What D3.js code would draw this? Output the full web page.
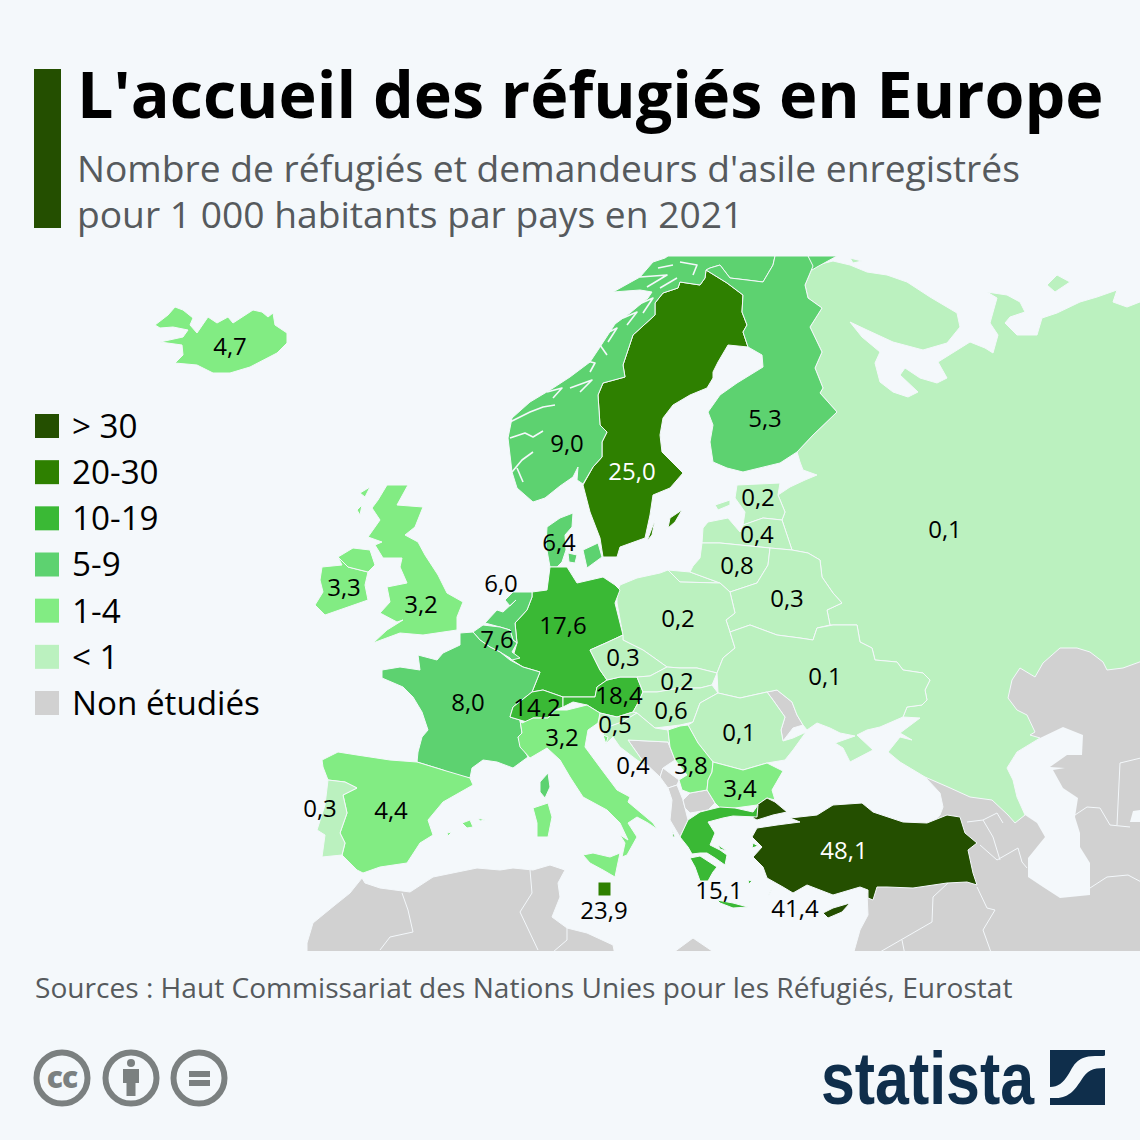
<!DOCTYPE html>
<html>

<head>
    <meta charset="utf-8">
    <style>
        body {
            margin: 0;
            background: #f4f8fb;
        }

        svg {
            display: block;
            font-family: 'Open Sans', sans-serif;
        }

        .land {
            stroke: #f4f8fb;
            stroke-width: 1;
            stroke-linejoin: round;
        }

        .inner-border {
            fill: none;
            stroke: #f4f8fb;
            stroke-width: 1;
        }

        .fjord {
            fill: none;
            stroke: #f4f8fb;
            stroke-width: 1.6;
            stroke-linejoin: round;
        }
    </style>
</head>

<body>
    <svg width="1140" height="1140"></svg>

    <script src="https://d3js.org/d3.v7.min.js"></script>
    <script>
        // values, refugees per 1 000 inhabitants
        const countryNames = ["Islande", "Suède", "Norvège", "Finlande", "Estonie", "Lettonie", "Lituanie", "Danemark", "Pays-Bas", "Irlande",
            "Royaume-Uni", "Belgique", "Allemagne", "Biélorussie", "Pologne", "Tchéquie", "Slovaquie", "Autriche", "Suisse", "France",
            "Hongrie", "Slovénie", "Ukraine", "Roumanie", "Italie", "Croatie", "Serbie", "Bulgarie", "Portugal", "Espagne",
            "Turquie", "Grèce", "Chypre", "Malte", "Russie"]
        const refugeesPer1000 = [4.7, 25.0, 9.0, 5.3, 0.2, 0.4, 0.8, 6.4, 6.0, 3.3,
            3.2, 7.6, 17.6, 0.3, 0.2, 0.3, 0.2, 18.4, 14.2, 8.0,
            0.6, 0.5, 0.1, 0.1, 3.2, 0.4, 3.8, 3.4, 0.3, 4.4,
            48.1, 15.1, 41.4, 23.9, 0.1]

        const legendLabels = ["> 30", "20-30", "10-19", "5-9", "1-4", "< 1", "Non étudiés"]
        const legendColors = ["#244f00", "#2e8000", "#3ab935", "#5dd270", "#82ec83", "#bbf1bf", "#d1d1d1"]
        const tierBreaks = [1, 5, 10, 20, 30]
        const tierColors = ["#bbf1bf", "#82ec83", "#5dd270", "#3ab935", "#2e8000", "#244f00"]

        const titleText = "L'accueil des réfugiés en Europe"
        const subtitleLines = ["Nombre de réfugiés et demandeurs d'asile enregistrés", "pour 1 000 habitants par pays en 2021"]
        const sourceText = "Sources : Haut Commissariat des Nations Unies pour les Réfugiés, Eurostat"
        const whiteLabels = ["Suède", "Turquie"]

        const greyLands = {
            "Est": [[[1000, 640], [1145, 640], [1145, 955], [853, 955], [860, 930], [868, 915], [867, 893], [880, 880], [940, 815], [943, 807], [940, 793], [925, 777], [1000, 770]]],
            "Afrique du Nord": [[[307, 955], [307, 943], [313, 923], [335, 905], [350, 893], [362, 878], [365, 883], [380, 888], [410, 892], [433, 877], [477, 868], [500, 870], [513, 868], [533, 870], [550, 865], [565, 870], [558, 883], [560, 897], [552, 917], [567, 928], [587, 933], [613, 945], [615, 955]],
                [[670, 955], [693, 938], [718, 955]]],
            "Bosnie": [[[628, 740], [668, 742], [675, 760], [663, 768], [660, 777], [642, 760]]],
            "Monténégro": [[[660, 777], [663, 768], [679, 780], [677, 785], [668, 788]]],
            "Albanie": [[[668, 788], [677, 785], [683, 800], [685, 808], [688, 820], [680, 837], [670, 820], [672, 800]]],
            "Macédoine du Nord": [[[683, 800], [690, 793], [707, 790], [715, 803], [708, 810], [690, 813], [685, 808]]],
            "Moldavie": [[[767, 692], [777, 690], [792, 702], [797, 715], [803, 725], [793, 728], [783, 741], [781, 730], [785, 717], [773, 700]]]
        }

        const waters = [
            [[1040, 738], [1063, 727], [1083, 735], [1082, 755], [1067, 755], [1050, 767], [1065, 768], [1053, 770], [1063, 788], [1078, 798], [1075, 817], [1080, 833], [1080, 847], [1090, 863], [1090, 895], [1060, 898], [1043, 887], [1028, 877], [1028, 858], [1045, 837], [1037, 823], [1025, 815], [1015, 793], [1007, 768], [1017, 752]],
            [[1130, 822], [1133, 811], [1140, 810], [1140, 822]]
        ]

        const greyBorders = [
            [[1075, 815], [1087, 807], [1100, 808], [1110, 825], [1130, 827]],
            [[1117, 825], [1120, 763], [1145, 757]],
            [[1090, 888], [1107, 877], [1128, 875], [1145, 884]],
            [[967, 822], [983, 820], [997, 813], [1003, 823]],
            [[983, 820], [993, 837], [1000, 860]],
            [[980, 845], [997, 860], [1018, 848], [1022, 862], [1027, 868]],
            [[977, 887], [987, 908], [995, 910], [983, 930], [992, 955]],
            [[948, 883], [933, 897], [932, 922], [880, 952]],
            [[902, 940], [905, 955]],
            [[530, 870], [532, 893], [520, 912], [538, 950]],
            [[567, 928], [567, 940], [553, 952]],
            [[402, 893], [408, 910], [413, 932], [390, 937], [380, 950]]
        ]

        const outlines = {
            "Russie": [[[813, 266], [833, 261], [850, 265], [867, 272], [887, 275], [907, 282], [930, 297], [957, 313], [960, 327], [947, 343], [923, 350], [893, 342], [867, 330], [850, 322], [862, 337], [880, 352], [875, 363], [880, 382], [893, 392], [908, 397], [918, 392], [900, 375], [905, 368], [920, 378], [937, 383], [947, 378], [938, 362], [970, 342], [985, 348], [993, 353], [998, 335], [990, 323], [997, 298], [987, 292], [1007, 295], [1020, 302], [1025, 312], [1010, 317], [1005, 323], [1017, 335], [1037, 335], [1042, 318], [1057, 313], [1080, 302], [1097, 297], [1117, 290], [1113, 302], [1127, 307], [1145, 300], [1145, 660], [1123, 668], [1107, 670], [1103, 662], [1090, 652], [1077, 648], [1060, 648], [1043, 663], [1035, 677], [1020, 668], [1012, 680], [1008, 698], [1017, 710], [1027, 715], [1035, 732], [1030, 735], [1040, 738], [1017, 752], [1007, 768], [1013, 780], [1017, 797], [1025, 815], [1015, 823], [1008, 815], [992, 800], [970, 797], [948, 787], [925, 777], [900, 762], [888, 752], [900, 737], [912, 740], [900, 733], [920, 718], [903, 717], [907, 707], [922, 705], [927, 700], [925, 690], [930, 680], [923, 673], [903, 670], [897, 662], [875, 660], [872, 648], [860, 642], [857, 625], [833, 625], [830, 625], [827, 610], [842, 603], [833, 593], [822, 577], [820, 560], [808, 553], [792, 550], [782, 520], [785, 512], [778, 495], [790, 487], [805, 480], [817, 475], [803, 470], [800, 462], [797, 452], [813, 435], [837, 412], [820, 393], [823, 388], [815, 368], [822, 352], [810, 327], [822, 308], [808, 298], [805, 285]],
                [[668, 570], [690, 572], [720, 583], [680, 582]],
                [[1047, 285], [1057, 275], [1070, 282], [1055, 292]],
                [[850, 258], [862, 261], [853, 263]]],
            "Islande": [[[155, 325], [168, 315], [175, 307], [183, 310], [193, 318], [190, 325], [197, 333], [208, 317], [217, 323], [228, 317], [233, 323], [253, 310], [262, 312], [268, 317], [273, 313], [275, 325], [287, 333], [287, 343], [277, 353], [250, 367], [230, 373], [213, 373], [197, 365], [175, 363], [183, 355], [182, 345], [160, 342], [183, 337], [188, 330], [173, 327], [160, 328]]],
            "Suède": [[[706, 270], [727, 283], [743, 295], [742, 312], [747, 325], [743, 332], [748, 347], [728, 345], [718, 362], [713, 372], [713, 378], [707, 388], [690, 395], [673, 405], [663, 418], [660, 435], [662, 452], [683, 473], [670, 488], [653, 495], [650, 515], [645, 538], [620, 547], [617, 557], [603, 557], [600, 538], [590, 512], [583, 485], [593, 467], [602, 457], [602, 442], [607, 432], [600, 425], [598, 395], [603, 383], [625, 377], [623, 365], [633, 335], [655, 315], [655, 303], [663, 293], [678, 288], [680, 282], [700, 285], [705, 278]],
                [[668, 528], [670, 518], [682, 510], [675, 522]],
                [[647, 541], [655, 520], [652, 535]]],
            "Norvège": [[[533, 502], [517, 488], [512, 472], [508, 438], [512, 418], [530, 402], [550, 390], [570, 377], [590, 362], [600, 347], [615, 324], [630, 313], [648, 298], [652, 292], [640, 290], [613, 292], [640, 277], [653, 262], [665, 258], [668, 256], [775, 256], [773, 265], [763, 282], [747, 280], [730, 278], [720, 265], [710, 268], [706, 270], [705, 278], [700, 285], [680, 282], [678, 288], [663, 293], [655, 303], [655, 315], [633, 335], [623, 365], [625, 377], [603, 383], [598, 395], [600, 425], [607, 432], [602, 442], [602, 457], [593, 467], [583, 484], [577, 480], [578, 467], [573, 477], [560, 486], [545, 498]],
                [[808, 256], [837, 256], [817, 267], [812, 270]]],
            "Finlande": [[[775, 256], [808, 256], [813, 266], [805, 285], [808, 298], [822, 308], [810, 327], [822, 352], [815, 368], [823, 388], [820, 393], [837, 412], [813, 435], [797, 452], [780, 463], [743, 472], [727, 468], [713, 462], [710, 442], [713, 425], [708, 412], [720, 395], [737, 383], [763, 367], [762, 355], [748, 347], [743, 332], [747, 325], [742, 312], [743, 295], [727, 283], [706, 270], [710, 268], [720, 265], [730, 278], [747, 280], [763, 282], [773, 265]]],
            "Estonie": [[[737, 485], [780, 483], [778, 495], [785, 512], [782, 520], [763, 518], [743, 525], [745, 512], [735, 498]],
                [[715, 505], [730, 500], [730, 505], [718, 510]]],
            "Lettonie": [[[703, 528], [708, 522], [728, 518], [740, 532], [743, 525], [763, 518], [782, 520], [792, 550], [770, 548], [720, 543], [702, 543]]],
            "Lituanie": [[[702, 543], [720, 543], [770, 548], [768, 565], [757, 583], [730, 592], [720, 583], [690, 572], [693, 566], [700, 558]]],
            "Biélorussie": [[[730, 592], [757, 583], [768, 565], [770, 548], [792, 550], [808, 553], [820, 560], [822, 577], [833, 593], [842, 603], [827, 610], [830, 625], [817, 628], [813, 640], [800, 638], [777, 635], [750, 625], [730, 632], [726, 620], [735, 613]]],
            "Pologne": [[[620, 585], [637, 578], [660, 573], [668, 570], [680, 582], [720, 583], [730, 592], [735, 613], [726, 620], [730, 632], [735, 648], [723, 658], [717, 673], [697, 668], [680, 668], [667, 667], [653, 657], [643, 650], [623, 640], [622, 630], [617, 603], [617, 593]]],
            "Danemark": [[[547, 527], [560, 518], [573, 513], [572, 527], [565, 535], [566, 550], [562, 562], [557, 567], [550, 567], [546, 545]],
                [[583, 550], [598, 543], [602, 557], [587, 568]],
                [[568, 553], [577, 555], [575, 563], [569, 562]]],
            "Allemagne": [[[532, 592], [547, 590], [550, 567], [567, 567], [577, 583], [603, 577], [615, 585], [620, 590], [615, 603], [623, 635], [608, 642], [590, 650], [600, 670], [607, 680], [597, 687], [595, 697], [580, 697], [563, 697], [543, 690], [532, 692], [540, 672], [523, 667], [512, 660], [517, 643], [515, 623], [527, 610], [532, 597]]],
            "Pays-Bas": [[[532, 592], [513, 592], [505, 600], [510, 606], [516, 600], [503, 612], [497, 610], [485, 623], [500, 627], [510, 630], [513, 640], [517, 643], [515, 623], [527, 610], [532, 597]]],
            "Belgique": [[[473, 632], [483, 625], [500, 627], [510, 630], [513, 640], [517, 643], [512, 652], [520, 658], [512, 660], [510, 658], [500, 652], [490, 647], [480, 640]]],
            "France": [[[460, 633], [473, 632], [480, 640], [490, 647], [500, 652], [510, 660], [523, 667], [540, 672], [532, 692], [513, 707], [510, 717], [520, 720], [522, 733], [518, 737], [522, 747], [528, 757], [513, 768], [497, 762], [483, 760], [472, 768], [470, 778], [453, 775], [443, 770], [417, 762], [418, 752], [422, 737], [428, 730], [422, 712], [413, 697], [403, 687], [382, 678], [382, 670], [400, 667], [420, 670], [418, 655], [437, 660], [443, 653], [460, 645]],
                [[548, 773], [550, 787], [545, 798], [540, 792], [540, 782]]],
            "Suisse": [[[532, 692], [543, 690], [563, 697], [563, 707], [555, 710], [548, 718], [533, 718], [527, 722], [520, 720], [510, 717], [513, 707]]],
            "Autriche": [[[563, 697], [580, 697], [595, 697], [597, 687], [607, 680], [620, 677], [637, 677], [643, 692], [638, 703], [633, 712], [617, 717], [600, 713], [587, 705], [573, 702], [563, 707]]],
            "Tchéquie": [[[590, 650], [608, 642], [623, 635], [623, 640], [643, 650], [653, 657], [667, 667], [650, 676], [637, 677], [620, 677], [607, 680], [600, 670]]],
            "Slovaquie": [[[667, 667], [680, 668], [697, 668], [717, 673], [712, 685], [700, 688], [680, 688], [657, 692], [643, 692], [637, 677], [650, 676]]],
            "Hongrie": [[[643, 692], [657, 692], [680, 688], [700, 688], [712, 685], [718, 693], [700, 703], [693, 722], [680, 725], [655, 728], [637, 713], [633, 712], [638, 703]]],
            "Slovénie": [[[600, 713], [617, 717], [633, 712], [637, 713], [622, 722], [611, 726], [604, 733], [598, 723]]],
            "Croatie": [[[637, 713], [655, 728], [668, 730], [670, 747], [668, 742], [628, 740], [642, 760], [650, 768], [637, 760], [620, 747], [613, 737], [607, 743], [603, 734], [611, 726], [622, 722]]],
            "Ukraine": [[[717, 673], [723, 658], [735, 648], [730, 632], [750, 625], [777, 635], [800, 638], [813, 640], [817, 628], [833, 625], [857, 625], [860, 642], [872, 648], [875, 660], [897, 662], [903, 670], [923, 673], [930, 680], [925, 690], [927, 700], [922, 705], [907, 707], [903, 717], [880, 727], [867, 730], [857, 735], [873, 750], [850, 762], [843, 748], [835, 743], [855, 736], [840, 733], [830, 728], [817, 723], [807, 730], [803, 725], [797, 715], [792, 702], [777, 690], [767, 692], [740, 698], [718, 693]]],
            "Roumanie": [[[718, 693], [740, 698], [767, 692], [773, 700], [785, 717], [781, 730], [783, 741], [793, 738], [806, 732], [793, 750], [785, 760], [767, 763], [743, 770], [713, 762], [698, 743], [688, 725], [693, 722], [700, 703]]],
            "Serbie": [[[668, 730], [680, 726], [688, 725], [698, 743], [713, 762], [712, 772], [708, 780], [707, 790], [690, 793], [682, 790], [679, 780], [687, 775], [675, 760], [670, 747]]],
            "Bulgarie": [[[713, 762], [743, 770], [767, 763], [783, 771], [772, 790], [775, 800], [767, 798], [757, 805], [735, 808], [720, 808], [715, 803], [707, 790], [708, 780], [712, 772]]],
            "Italie": [[[522, 723], [533, 718], [548, 718], [555, 710], [567, 710], [587, 705], [600, 713], [598, 723], [588, 730], [585, 747], [602, 770], [617, 790], [630, 797], [628, 802], [653, 823], [657, 829], [648, 823], [637, 817], [628, 823], [637, 837], [627, 855], [622, 857], [625, 843], [620, 835], [628, 840], [620, 823], [607, 810], [583, 797], [570, 777], [560, 760], [547, 748], [530, 758], [520, 747], [518, 737], [522, 733], [520, 720]],
                [[583, 855], [593, 853], [610, 857], [620, 853], [617, 867], [615, 877], [603, 870], [590, 863]],
                [[533, 808], [548, 803], [552, 817], [548, 837], [537, 837], [537, 823]],
                [[603, 735], [608, 737], [606, 744]]],
            "Espagne": [[[322, 760], [338, 752], [357, 755], [390, 760], [417, 762], [443, 770], [470, 778], [473, 785], [443, 802], [428, 820], [433, 835], [420, 843], [407, 863], [380, 867], [363, 873], [357, 870], [342, 855], [345, 843], [340, 833], [347, 813], [343, 795], [357, 788], [345, 782], [328, 780], [323, 767]],
                [[462, 823], [470, 820], [473, 827], [467, 828]],
                [[478, 818], [485, 820], [480, 821]],
                [[447, 833], [452, 832], [448, 836]]],
            "Portugal": [[[328, 780], [345, 782], [357, 788], [343, 795], [347, 813], [340, 833], [345, 843], [342, 855], [322, 857], [325, 835], [317, 830], [325, 805]]],
            "Irlande": [[[322, 567], [342, 565], [338, 557], [348, 567], [360, 570], [368, 572], [365, 585], [368, 600], [325, 615], [315, 605], [323, 592], [320, 580]]],
            "Royaume-Uni": [[[387, 485], [408, 485], [397, 505], [423, 507], [415, 527], [405, 535], [418, 542], [425, 555], [438, 575], [447, 593], [463, 602], [457, 617], [457, 630], [423, 635], [400, 633], [373, 643], [387, 630], [403, 620], [397, 622], [380, 613], [390, 602], [387, 587], [407, 583], [400, 567], [402, 558], [383, 558], [375, 545], [382, 542], [368, 537], [380, 520], [372, 508], [378, 500]],
                [[338, 557], [353, 548], [370, 550], [375, 565], [368, 572], [360, 570], [348, 567]],
                [[360, 493], [370, 487], [365, 497]],
                [[357, 510], [362, 505], [360, 515]]],
            "Turquie": [[[767, 798], [775, 802], [787, 812], [773, 815], [757, 820], [753, 818], [757, 805]],
                [[757, 828], [777, 825], [800, 822], [790, 818], [817, 815], [833, 805], [862, 803], [873, 812], [903, 822], [927, 823], [947, 815], [960, 817], [965, 833], [977, 843], [968, 850], [973, 873], [977, 885], [967, 882], [947, 883], [913, 888], [887, 887], [877, 887], [873, 900], [868, 898], [868, 890], [860, 887], [833, 895], [807, 885], [793, 893], [783, 887], [767, 878], [763, 867], [753, 857], [762, 847], [752, 837]]],
            "Chypre": [[[823, 913], [833, 908], [850, 903], [842, 912], [828, 918]]],
            "Grèce": [[[688, 820], [700, 812], [720, 807], [735, 808], [753, 812], [758, 805], [757, 817], [733, 816], [723, 818], [708, 822], [715, 833], [710, 845], [720, 850], [727, 855], [725, 865], [715, 858], [707, 853], [700, 853], [692, 854], [688, 847], [680, 837]],
                [[690, 858], [700, 856], [717, 867], [713, 872], [708, 881], [700, 881], [695, 867]],
                [[717, 900], [733, 903], [748, 907], [733, 908], [720, 903]],
                [[770, 893], [773, 887], [768, 896]],
                [[753, 843], [758, 846], [752, 848]],
                [[672, 830], [675, 837], [673, 837]],
                [[718, 845], [727, 851], [720, 849]],
                [[748, 880], [752, 881], [749, 884]]],
            "Malte": [[[598, 882], [611, 882], [611, 896], [598, 896]]]
        }

        const fjords = [
            [[510, 438], [525, 433], [533, 437], [543, 431]],
            [[512, 472], [522, 460], [533, 452]],
            [[510, 422], [530, 412], [543, 407], [555, 405]],
            [[523, 482], [517, 468]],
            [[547, 392], [562, 388], [553, 398]],
            [[570, 388], [592, 380], [580, 392]],
            [[583, 360], [595, 363], [590, 372]],
            [[600, 345], [607, 355]],
            [[603, 335], [617, 328], [608, 342]],
            [[623, 318], [637, 312], [627, 325]],
            [[637, 305], [653, 298], [643, 313]],
            [[640, 277], [667, 275], [647, 287]],
            [[660, 288], [677, 278]],
            [[680, 262], [697, 265], [693, 275]],
            [[658, 268], [673, 265]]
        ]

        // where each value is written, same order as countryNames
        const labelSpots = [[230, 346], [632, 471], [567, 443], [765, 418], [758, 497], [757, 534], [737, 565], [559, 542], [501, 583], [344, 587],
            [421, 604], [497, 639], [563, 625], [787, 598], [678, 618], [623, 657], [677, 681], [619, 695], [537, 707], [468, 702],
            [671, 710], [615, 724], [825, 676], [739, 732], [562, 737], [633, 765], [691, 765], [740, 788], [320, 808], [391, 810],
            [844, 850], [719, 890], [795, 908], [604, 910], [945, 529]]

        let svg = d3.select("svg")

        let fillScale = d3.scaleThreshold().domain(tierBreaks).range(tierColors)
        let greyFill = legendColors[legendColors.length - 1]
        let background = "#f4f8fb"

        let projection = d3.geoIdentity().scale(1).translate([0, 0])
        let path = d3.geoPath(projection)

        let toFeature = (name, rings) => ({
            type: "Feature",
            properties: { name },
            geometry: { type: "MultiPolygon", coordinates: rings.map(r => [r.concat([r[0]])]) }
        })

        // header
        svg.append("rect").attr("x", 34).attr("y", 69).attr("width", 27).attr("height", 159).attr("fill", "#244f00")

        svg.append("text")
            .attr("x", 77).attr("y", 118)
            .attr("font-size", 64.6).attr("font-weight", 700).attr("fill", "#000")
            .text(titleText)

        svg.selectAll(".subtitle")
            .data(subtitleLines)
            .join("text")
            .attr("class", "subtitle")
            .attr("x", 77)
            .attr("y", (d, i) => 182 + i * 46)
            .attr("font-size", 37.2).attr("fill", "#565a5d")
            .text(d => d)

        // map
        svg.append("clipPath").attr("id", "map-frame")
            .append("rect").attr("x", 0).attr("y", 256).attr("width", 1140).attr("height", 695)

        let map = svg.append("g").attr("clip-path", "url(#map-frame)")

        map.append("g").selectAll("path")
            .data(Object.entries(greyLands).map(([name, rings]) => toFeature(name, rings)))
            .join("path")
            .attr("class", "land")
            .attr("d", path)
            .attr("fill", greyFill)

        map.append("g").selectAll("path")
            .data(greyBorders)
            .join("path")
            .attr("class", "inner-border")
            .attr("d", d => path({ type: "LineString", coordinates: d }))

        map.append("g").selectAll("path")
            .data(waters)
            .join("path")
            .attr("d", d => path({ type: "Polygon", coordinates: [d.concat([d[0]])] }))
            .attr("fill", background)

        map.append("g").selectAll("path")
            .data(Object.entries(outlines).map(([name, rings]) => toFeature(name, rings)))
            .join("path")
            .attr("class", "land")
            .attr("d", path)
            .attr("fill", d => fillScale(refugeesPer1000[countryNames.indexOf(d.properties.name)]))

        map.append("g").selectAll("path")
            .data(fjords)
            .join("path")
            .attr("class", "fjord")
            .attr("d", d => path({ type: "LineString", coordinates: d }))

        let commaFormat = v => d3.format(".1f")(v).replace(".", ",")

        svg.append("g").selectAll("text")
            .data(countryNames)
            .join("text")
            .attr("transform", (d, i) => `translate(${projection(labelSpots[i])})`)
            .attr("dy", "0.36em")
            .attr("text-anchor", "middle")
            .attr("font-size", 24)
            .attr("fill", d => whiteLabels.includes(d) ? "#fff" : "#000")
            .text((d, i) => commaFormat(refugeesPer1000[i]))

        // legend
        let legendY = d3.scalePoint().domain(legendLabels).range([426, 703])

        let legend = svg.append("g").selectAll("g")
            .data(legendLabels)
            .join("g")
            .attr("transform", d => `translate(35,${legendY(d)})`)

        legend.append("rect")
            .attr("y", -12).attr("width", 24).attr("height", 24)
            .attr("fill", (d, i) => legendColors[i])

        legend.append("text")
            .attr("x", 37).attr("dy", "0.36em")
            .attr("font-size", 33.2).attr("fill", "#000")
            .text(d => d)

        // source
        svg.append("text")
            .attr("x", 35).attr("y", 998)
            .attr("font-size", 28.1).attr("fill", "#565a5d")
            .text(sourceText)

        // licence icons
        let iconColor = "#7b8080"
        let iconX = [62, 131, 199]
        svg.append("g").selectAll("circle")
            .data(iconX)
            .join("circle")
            .attr("cx", d => d).attr("cy", 1078).attr("r", 25.5)
            .attr("fill", "none").attr("stroke", iconColor).attr("stroke-width", 6)

        svg.append("text")
            .attr("x", 62).attr("y", 1088)
            .attr("text-anchor", "middle")
            .attr("font-size", 30).attr("font-weight", 800).attr("letter-spacing", -1).attr("fill", iconColor)
            .text("cc")

        svg.append("circle").attr("cx", 131).attr("cy", 1063).attr("r", 4).attr("fill", iconColor)
        svg.append("path")
            .attr("d", "M123,1069H139V1083H135.5V1096H126.5V1083H123Z")
            .attr("fill", iconColor)
        svg.append("rect").attr("x", 189).attr("y", 1071).attr("width", 21).attr("height", 6).attr("fill", iconColor)
        svg.append("rect").attr("x", 189).attr("y", 1080).attr("width", 21).attr("height", 6).attr("fill", iconColor)

        // statista logo
        let logoColor = "#0f2e4b"
        svg.append("text")
            .attr("x", 821).attr("y", 1104)
            .attr("font-family", "'Liberation Sans Narrow', 'Liberation Sans', sans-serif")
            .attr("font-size", 74).attr("font-weight", 700).attr("fill", logoColor)
            .attr("textLength", 213).attr("lengthAdjust", "spacingAndGlyphs")
            .text("statista")

        svg.append("path")
            .attr("d", "M1050,1050H1105V1055Q1105,1056 1103,1056H1095C1075,1056 1073,1068 1068,1075C1063,1083 1058,1087 1050,1087Z")
            .attr("fill", logoColor)
        svg.append("path")
            .attr("d", "M1050,1105V1098H1056C1070,1098 1076,1088 1082,1079C1087,1071 1092,1068 1105,1068V1105Z")
            .attr("fill", logoColor)
    </script>
</body>

</html>
